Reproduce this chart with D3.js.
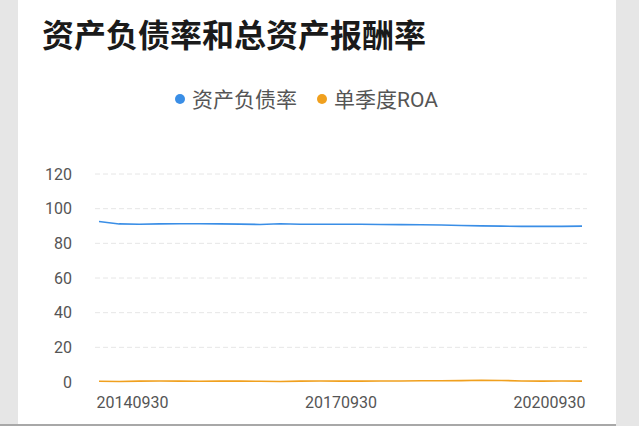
<!DOCTYPE html>
<html><head><meta charset="utf-8">
<script src="https://cdn.jsdelivr.net/npm/d3@7/dist/d3.min.js"></script>
<style>html,body{margin:0;padding:0;background:#e6e6e6;}svg{display:block;}</style>
</head><body>
<svg id="c" width="639" height="426"></svg>
<script>
const categories = ["20140930","20141231","20150331","20150630","20150930","20151231","20160331","20160630","20160930","20161231","20170331","20170630","20170930","20171231","20180331","20180630","20180930","20181231","20190331","20190630","20190930","20191231","20200331","20200630","20200930"];
const debtRatio = [92.6,91.2,91.0,91.2,91.3,91.3,91.2,91.1,90.9,91.3,91.0,91.0,91.0,91.0,90.9,90.8,90.7,90.6,90.3,90.1,89.9,89.8,89.8,89.8,89.9];
const roa = [0.4,0.3,0.5,0.6,0.5,0.4,0.6,0.5,0.4,0.3,0.5,0.6,0.5,0.5,0.6,0.6,0.7,0.7,0.8,1.0,0.9,0.6,0.5,0.6,0.5];
const yTicks = [0,20,40,60,80,100,120];
const xTickLabels = ["20140930","20170930","20200930"];
const seriesNames = ["资产负债率","单季度ROA"];
const colors = ["#3a8ee6","#f0a01e"];

const svg = d3.select("#c");
const font = "Roboto, 'Noto Sans CJK SC', sans-serif";
// card
svg.append("rect").attr("x",18).attr("y",0).attr("width",598).attr("height",424).attr("fill","#fff");
svg.append("rect").attr("x",0).attr("y",424).attr("width",616).attr("height",2).attr("fill","#a8a8a8");

svg.append("text").attr("x",42).attr("y",47).text("资产负债率和总资产报酬率")
  .attr("font-family","'Noto Sans CJK SC', sans-serif").attr("font-weight","bold")
  .attr("font-size",32).attr("fill","#1a1a1a");

const x = d3.scalePoint().domain(categories).range([99,582]);
const y = d3.scaleLinear().domain([0,120]).range([382,174]);

// grid
svg.append("g").selectAll("line").data(yTicks.filter(d=>d>0)).join("line")
  .attr("x1",95).attr("x2",587).attr("y1",d=>y(d)).attr("y2",d=>y(d))
  .attr("stroke","#e6e6e6").attr("stroke-width",1).attr("stroke-dasharray","5,3");

// y axis
const ya = svg.append("g").attr("transform","translate(72,0)")
  .call(d3.axisLeft(y).tickValues(yTicks).tickSize(0).tickPadding(0));
ya.select(".domain").remove();
ya.selectAll("text").attr("font-family",font).attr("font-size",16).attr("fill","#555");

// x axis
const xa = svg.append("g").attr("transform","translate(0,397)")
  .call(d3.axisBottom(x).tickValues(xTickLabels).tickSize(0).tickPadding(0));
xa.select(".domain").remove();
xa.selectAll("text").attr("font-family",font).attr("font-size",16).attr("fill","#555")
  .attr("text-anchor",(d,i)=> i===0?"start":(i===xTickLabels.length-1?"end":"middle"))
  .attr("dx",(d,i)=> i===0?-3:(i===xTickLabels.length-1?3:0));

const line = d3.line().x((d,i)=>x(categories[i])).y(d=>y(d));
[debtRatio, roa].forEach((s,k)=>{
  svg.append("path").datum(s).attr("d",line).attr("fill","none")
    .attr("stroke",colors[k]).attr("stroke-width",1.6);
});

// legend
const leg = [{x:180,name:seriesNames[0],c:colors[0]},{x:322,name:seriesNames[1],c:colors[1]}];
leg.forEach(l=>{
  svg.append("circle").attr("cx",l.x).attr("cy",99).attr("r",5).attr("fill",l.c);
  svg.append("text").attr("x",l.x+12).attr("y",107).text(l.name)
    .attr("font-family",font).attr("font-size",21).attr("fill","#555");
});
</script>
</body></html>
